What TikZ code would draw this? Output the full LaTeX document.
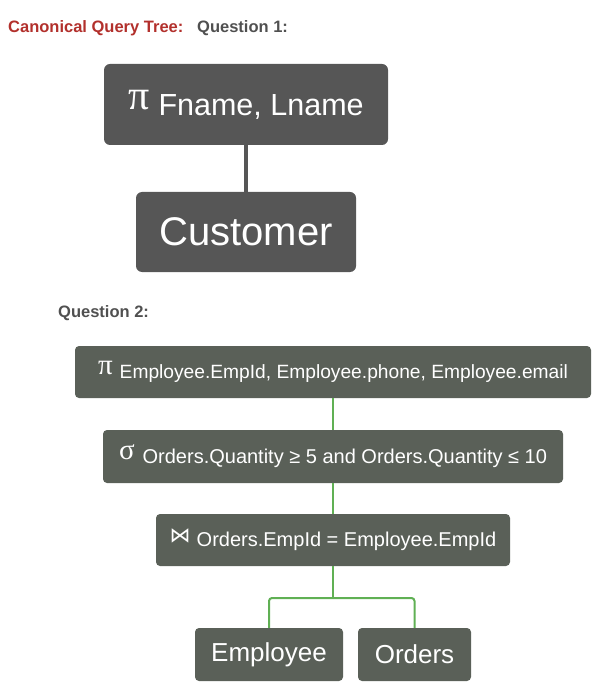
\documentclass[tikz,border=0pt]{standalone}
\usepackage{fontspec}
\setmainfont{Liberation Sans}
\newfontfamily\greekfont{Liberation Serif}
\newfontfamily\symfont{DejaVu Sans}
\usepackage{tikz}
\usetikzlibrary{positioning}
\definecolor{titlered}{RGB}{178,48,44}
\definecolor{labelgray}{RGB}{80,80,80}
\definecolor{boxgray}{RGB}{86,86,86}
\definecolor{boxgreen}{RGB}{90,96,88}
\definecolor{linkgreen}{RGB}{96,176,84}

\begin{document}
\begin{tikzpicture}[x=1pt,y=-1pt,
  title/.style={anchor=base west,inner sep=0pt,font=\fontsize{16.5}{18}\selectfont\bfseries},
  qonebox/.style={fill=boxgray,draw=none,rounded corners=6pt,text=white,inner sep=0pt},
  qtwobox/.style={fill=boxgreen,draw=none,rounded corners=4pt,text=white,inner sep=0pt,
    font=\fontsize{20}{22}\selectfont},
  qoneline/.style={draw=boxgray,line width=3.5pt},
  qtwoline/.style={draw=linkgreen,line width=2pt,rounded corners=3pt}]
\useasboundingbox (0,0) rectangle (596,700);

% titles
\node[title,text=titlered] (head) at (8,33) {Canonical Query Tree:};
\node[title,text=labelgray] (qone) at (197,33) {Question 1:};
\node[title,text=labelgray] (qtwo) at (58,317) {Question 2:};

% question 1
\node[qonebox,minimum width=284pt,minimum height=81pt] (proj) at (246,104.5)
  {\raisebox{6pt}{\greekfont\fontsize{42}{42}\selectfont π}\hspace{9pt}\fontsize{30.5}{32}\selectfont Fname, Lname};
\node[qonebox,minimum width=220pt,minimum height=80pt,font=\fontsize{40}{44}\selectfont] (cust) at (246,232) {Customer};
\draw[qoneline] (proj.south) -- (cust.north);

% question 2
\node[qtwobox,minimum width=516pt,minimum height=52pt,font=\fontsize{19.2}{22}\selectfont] (pi) at (333,372)
  {\raisebox{4pt}{\greekfont\fontsize{29}{29}\selectfont π}\hspace{7pt}Employee.EmpId, Employee.phone, Employee.email};
\node[qtwobox,minimum width=460pt,minimum height=53pt] (sigma) at (333,456.5)
  {\raisebox{4pt}{\greekfont\fontsize{29}{29}\selectfont σ}\hspace{8pt}Orders.Quantity ≥ 5 and Orders.Quantity ≤ 10};
\node[qtwobox,minimum width=354pt,minimum height=52pt] (join) at (333,540)
  {\raisebox{4pt}{\symfont\fontsize{21}{21}\selectfont ⋈}\hspace{6pt}Orders.EmpId = Employee.EmpId};
\node[qtwobox,minimum width=148pt,minimum height=53pt,font=\fontsize{26}{30}\selectfont] (emp) at (269,654.5) {Employee};
\node[qtwobox,minimum width=113pt,minimum height=53pt,font=\fontsize{26}{30}\selectfont] (ord) at (414.5,654.5) {Orders};
\coordinate (split) at (333,598);

\draw[qtwoline] (pi.south) -- (sigma.north);
\draw[qtwoline] (sigma.south) -- (join.north);
\draw[qtwoline] (join.south) -- (split);
\draw[qtwoline] (split) -| (emp.north);
\draw[qtwoline] (split) -| (ord.north);
\end{tikzpicture}
\end{document}
